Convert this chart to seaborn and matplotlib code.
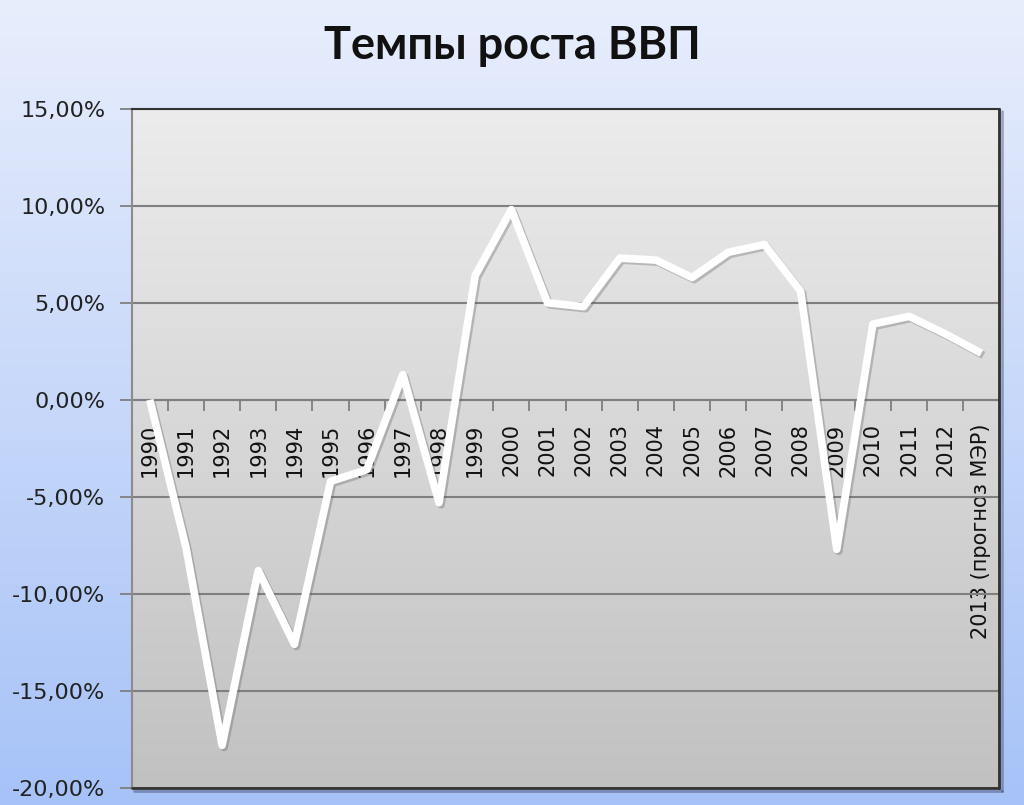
import numpy as np
import pandas as pd
import matplotlib
matplotlib.use("Agg")
import matplotlib.pyplot as plt
import matplotlib.patheffects as pe
from matplotlib.ticker import FuncFormatter, FixedLocator
from matplotlib.colors import LinearSegmentedColormap
import seaborn as sns

# ---- data ----
years = ["1990", "1991", "1992", "1993", "1994", "1995", "1996", "1997",
         "1998", "1999", "2000", "2001", "2002", "2003", "2004", "2005",
         "2006", "2007", "2008", "2009", "2010", "2011", "2012",
         "2013 (прогноз МЭР)"]
growth = [0.0, -7.6, -17.8, -8.8, -12.6, -4.2, -3.6, 1.3,
          -5.3, 6.4, 9.8, 5.0, 4.8, 7.3, 7.2, 6.3,
          7.6, 8.0, 5.6, -7.7, 3.9, 4.3, 3.4, 2.4]
yticks = [-20, -15, -10, -5, 0, 5, 10, 15]
title = "Темпы роста ВВП"

df = pd.DataFrame({"pos": np.arange(len(years)), "growth": growth})

sns.set_theme(style="white")
plt.rcParams["font.family"] = ["DejaVu Sans"]

fig = plt.figure(figsize=(10.24, 8.05), dpi=100)

# figure background gradient
bg = fig.add_axes([0, 0, 1, 1], zorder=-10)
bg_cmap = LinearSegmentedColormap.from_list("bg", ["#a6c2f7", "#e8eefc"])
bg.imshow(np.linspace(0, 1, 256).reshape(-1, 1), cmap=bg_cmap, aspect="auto",
          origin="lower", extent=[0, 1, 0, 1])
bg.set_axis_off()

ax = fig.add_axes([0.1286, 0.0211, 0.976 - 0.1286, 0.865 - 0.0211])
ax.set_facecolor("none")

# plot area gradient
pa_cmap = LinearSegmentedColormap.from_list("pa", ["#c1c1c1", "#ececec"])
ax.imshow(np.linspace(0, 1, 256).reshape(-1, 1), cmap=pa_cmap, aspect="auto",
          origin="lower", extent=[0, 1, 0, 1], transform=ax.transAxes, zorder=0)

ax.set_ylim(-20, 15)
ax.set_xlim(-0.5, len(years) - 0.5)

for v in yticks:
    ax.axhline(v, color="#7f7f7f", lw=1.5, zorder=1)

sns.lineplot(data=df, x="pos", y="growth", ax=ax, color="white", lw=5.5,
             sort=False, zorder=5,
             path_effects=[pe.SimpleLineShadow(offset=(1.5, -1.5), shadow_color="#555555", alpha=0.3),
                           pe.Normal()])
ax.lines[-1].set_solid_joinstyle("round")
ax.lines[-1].set_solid_capstyle("butt")

# y axis
ax.set_yticks(yticks)
ax.yaxis.set_major_formatter(FuncFormatter(lambda v, p: f"{v:.2f}%".replace(".", ",")))
ax.tick_params(axis="y", which="major", direction="out", length=9, width=1.3,
               color="#7f7f7f", labelsize=16, labelcolor="#222222", pad=10, left=True)

# x axis at zero
ax.spines["bottom"].set_position(("data", 0))
ax.spines["bottom"].set_color("#7f7f7f")
ax.spines["bottom"].set_linewidth(1.5)
ax.spines["bottom"].set_zorder(2)
ax.set_xticks(np.arange(len(years)))
ax.set_xticklabels(years, rotation=90, va="top", ha="center")
ax.xaxis.set_minor_locator(FixedLocator(np.arange(len(years) - 1) + 0.5))
ax.tick_params(axis="x", which="major", length=0, pad=17, labelsize=15,
               labelcolor="#111111", bottom=True)
ax.tick_params(axis="x", which="minor", direction="out", length=8, width=1.3,
               color="#7f7f7f", bottom=True)

ax.spines["left"].set_color("#8c8c8c")
ax.spines["left"].set_linewidth(1.5)
ax.spines["top"].set_color("#333333")
ax.spines["top"].set_linewidth(1.5)
ax.spines["right"].set_color("#333333")
ax.spines["right"].set_linewidth(1.8)
ax.set_xlabel("")
ax.set_ylabel("")

# bottom and right frame lines of plot area (with shadow)
shadow = [pe.SimpleLineShadow(offset=(2, -2), shadow_color="#333355", alpha=0.4), pe.Normal()]
ax.plot([0, 1], [0, 0], transform=ax.transAxes, color="#333333", lw=2.0,
        clip_on=False, zorder=6, path_effects=shadow)
ax.plot([1, 1], [0, 1], transform=ax.transAxes, color="#333333", lw=1.8,
        clip_on=False, zorder=6, path_effects=shadow)

fig.text(0.5, 0.943, title, ha="center", va="center", fontsize=32.5,
         fontweight="bold", family=["Lato", "DejaVu Sans"], color="#111111")

fig.savefig("out.png", dpi=100)
